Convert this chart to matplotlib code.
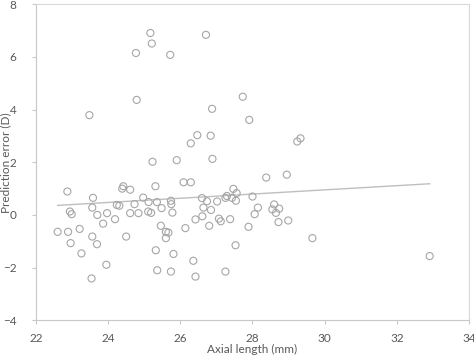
import numpy as np
import matplotlib
matplotlib.use("Agg")
import matplotlib.pyplot as plt

# axial length (mm) and prediction error (D)
axial_length = [
    25.17, 25.21, 24.77, 25.72, 26.71, 24.79, 23.48, 26.88, 27.73, 26.47,
    26.84, 26.29, 25.23, 25.90, 26.89, 27.91, 29.24, 29.33, 28.38, 28.95,
    22.87, 23.58, 24.42, 24.39, 24.61, 25.31, 26.09, 26.29, 24.97, 24.24,
    24.31, 24.73, 23.56, 22.94, 22.99, 23.70, 23.97, 23.86, 24.19, 24.61,
    24.84, 25.12, 25.11, 25.19, 25.35, 25.48, 25.74, 25.75, 25.78, 25.46,
    25.60, 25.67, 25.60, 25.32, 25.81, 25.36, 25.74, 22.60, 22.89, 23.21,
    22.96, 23.56, 23.69, 23.26, 24.50, 23.95, 23.54, 26.14, 26.42, 26.61,
    26.64, 26.60, 26.74, 26.85, 26.80, 26.36, 26.42, 27.02, 27.07, 27.12,
    27.25, 27.29, 27.38, 27.25, 27.43, 27.47, 27.54, 27.56, 27.53,
    28.00, 28.15, 28.06, 28.60, 28.55, 28.65, 28.74, 28.72, 28.99, 27.89,
    29.66, 32.91,
]
pred_error = [
    6.91, 6.51, 6.15, 6.08, 6.84, 4.37, 3.79, 4.03, 4.49, 3.03,
    3.01, 2.72, 2.02, 2.08, 2.13, 3.61, 2.79, 2.91, 1.42, 1.53,
    0.89, 0.65, 1.09, 1.00, 0.96, 1.09, 1.24, 1.24, 0.66, 0.38,
    0.35, 0.41, 0.28, 0.13, 0.03, 0.00, 0.07, -0.33, -0.16, 0.07,
    0.07, 0.49, 0.13, 0.08, 0.49, 0.26, 0.54, 0.41, 0.09, -0.41,
    -0.64, -0.67, -0.88, -1.34, -1.48, -2.10, -2.15, -0.64, -0.64, -0.53,
    -1.07, -0.82, -1.11, -1.46, -0.82, -1.89, -2.41, -0.50, -0.17, -0.05,
    0.28, 0.64, 0.52, 0.19, -0.41, -1.74, -2.34, 0.51, -0.14, -0.24,
    0.65, 0.72, -0.16, -2.15, 0.65, 0.99, 0.54, 0.83, -1.15,
    0.70, 0.28, 0.03, 0.40, 0.21, 0.08, 0.24, -0.27, -0.21, -0.45,
    -0.88, -1.56,
]

x_ticks = [22, 24, 26, 28, 30, 32, 34]
y_ticks = [-4, -2, 0, 2, 4, 6, 8]

plt.rcParams['font.family'] = ['Lato', 'DejaVu Sans']
text_color = '#595959'

fig = plt.figure(figsize=(4.74, 3.57), dpi=100)
ax = fig.add_axes([0.0759, 0.1028, 0.9136, 0.8852])

ax.scatter(axial_length, pred_error, s=26, facecolors='none',
           edgecolors='#a6a6a6', linewidths=0.8, zorder=3)

# linear trend line over the data range
x = np.array(axial_length)
slope, intercept = np.polyfit(x, np.array(pred_error), 1)
xs = np.array([x.min(), x.max()])
ax.plot(xs, slope * xs + intercept, color='#bfbfbf', linewidth=1.0, zorder=2)

ax.set_xlim(22, 34)
ax.set_ylim(-4, 8)
ax.set_xticks(x_ticks)
ax.set_yticks(y_ticks)

for side in ['left', 'bottom']:
    ax.spines[side].set_color('#c8c8c8')
for side in ['top', 'right']:
    ax.spines[side].set_color('#d9d9d9')
for s in ax.spines.values():
    s.set_linewidth(0.8)

ax.tick_params(axis='both', colors='#c8c8c8', labelcolor=text_color,
               labelsize=8.5, length=3, width=0.8)
ax.tick_params(axis='y', pad=11)
ax.tick_params(axis='x', pad=6)

ax.set_xlabel('Axial length (mm)', color=text_color, fontsize=8.5)
ax.set_ylabel('Prediction error (D)', color=text_color, fontsize=8.5)
ax.xaxis.set_label_coords(0.5, -0.076)
ax.yaxis.set_label_coords(-0.058, 0.5)

fig.savefig('out.png', dpi=100)
